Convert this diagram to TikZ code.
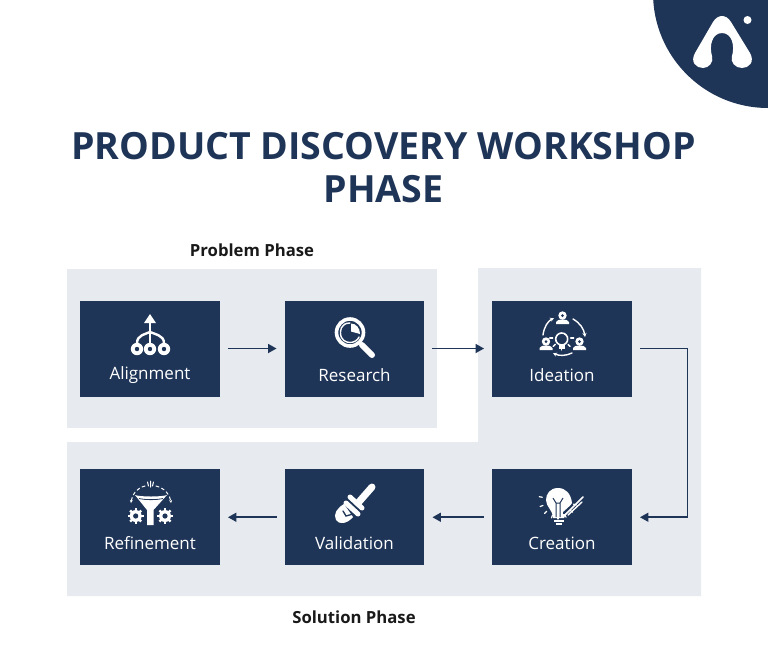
\documentclass[tikz,border=0pt]{standalone}
\usepackage{fontspec}
\setmainfont{Open Sans}
\usetikzlibrary{arrows.meta}
\definecolor{navy}{HTML}{1F3557}
\definecolor{panel}{HTML}{E7EAEE}
\tikzset{
  stepbox/.style={fill=navy,draw=none,minimum width=139.5pt,minimum height=96pt,inner sep=0pt},
  boxlabel/.style={text=white,font=\fontsize{17}{20}\selectfont,inner sep=0pt,anchor=base},
  flowarrow/.style={navy,line width=1.7pt,shorten >=8pt,shorten <=8pt,-{Triangle[length=8.5pt,width=9pt]}},
  phase/.style={font=\fontsize{16.7}{19}\selectfont\bfseries,text=black!90,inner sep=0pt},
  icon/.style={white,line width=1.4pt,line cap=round,line join=round}
}
% person: head and shoulders
\newcommand{\personicon}[2]{
  \fill[white] (#1,#2-4) circle (4.2);
  \fill[navy] (#1,#2-4) circle (1.5);
  \fill[white] (#1-6.5,#2+4.5) -- (#1-6.5,#2+2.5) .. controls (#1-5.5,#2-1) and (#1+5.5,#2-1) .. (#1+6.5,#2+2.5) -- (#1+6.5,#2+4.5) -- cycle;
}
% gear with a navy hole
\newcommand{\gearicon}[2]{
  \foreach \a in {0,45,...,315}
    \draw[white,line width=2.4pt] (#1,#2) ++(\a:7.8pt) -- ++(\a:-3pt);
  \fill[white] (#1,#2) circle (6);
  \fill[navy] (#1,#2) circle (2.6);
}
\begin{document}
\begin{tikzpicture}[x=1pt,y=-1pt]
\useasboundingbox (0,0) rectangle (768,665);
\fill[white] (0,0) rectangle (768,665);
% logo
\begin{scope}
\clip (0,0) rectangle (768,665);
\fill[navy] (768,-7) circle (115);
\end{scope}
\fill[white] (713,22) .. controls (718,14) and (726,14) .. (731,22) -- (750,53)
  .. controls (755,62) and (749,68) .. (742,68) .. controls (735,68) and (730,62) .. (732,56)
  .. controls (735,46) and (732,33) .. (722,33) .. controls (712,33) and (709,46) .. (712,56)
  .. controls (714,62) and (709,68) .. (703,68) .. controls (696,68) and (690,62) .. (695,53) -- cycle;
\fill[white] (747.5,20) circle (4);
% title
\node[text=navy,font=\fontsize{37.5}{43}\selectfont\bfseries,align=center,inner sep=0pt] (title) at (383.5,167.5) {PRODUCT DISCOVERY WORKSHOP\\PHASE};
% panels
\fill[panel] (67,269) rectangle (437,428);
\fill[panel] (478,268) -- (701,268) -- (701,596) -- (67,596) -- (67,442) -- (478,442) -- cycle;
\node[phase] (problem) at (252,250) {Problem Phase};
\node[phase] (solution) at (354,617) {Solution Phase};
% boxes
\node[stepbox] (alignment) at (150,348.5) {};
\node[stepbox] (research) at (354.5,348.5) {};
\node[stepbox] (ideation) at (562,348.5) {};
\node[stepbox] (refinement) at (150,517.25) {};
\node[stepbox] (validation) at (354.5,517.25) {};
\node[stepbox] (creation) at (562,517.25) {};
\node[boxlabel] (alignmenttext) at (150,379.5) {Alignment};
\node[boxlabel] (researchtext) at (354.5,381.5) {Research};
\node[boxlabel] (ideationtext) at (562,381.5) {Ideation};
\node[boxlabel] (refinementtext) at (150,549) {Refinement};
\node[boxlabel] (validationtext) at (354.5,549) {Validation};
\node[boxlabel] (creationtext) at (562,549) {Creation};
% arrows
\draw[flowarrow] (alignment) -- (research);
\draw[flowarrow] (research) -- (ideation);
\draw[flowarrow] (ideation.east) -- ++(55.5,0) |- (creation.east);
\draw[flowarrow] (creation) -- (validation);
\draw[flowarrow] (validation) -- (refinement);
% alignment icon
\draw[icon,line width=2.4pt] (150,320) -- (150,345);
\fill[white] (150,314) -- (156,323) -- (144,323) -- cycle;
\draw[icon,line width=2.4pt] (137,343) .. controls (137,335) and (146,334) .. (150,332) .. controls (154,334) and (164,335) .. (164,343);
\foreach \cx in {137,150,164}{
  \fill[white] (\cx,349) circle (6.2);
  \fill[navy] (\cx,349) circle (2.2);
}
% research icon
\draw[icon,line width=3.6pt] (350,332.5) circle (13.5);
\draw[icon,line width=6pt] (362,345) -- (372,355);
\draw[icon] (350,323) .. controls (340,323) and (340.5,332) .. (340.5,333) .. controls (340.5,340) and (346,342.5) .. (350,342.5) .. controls (354,342.5) and (358,340) .. (359,337);
\fill[white] (351,323.5) .. controls (356,323.5) and (360,328) .. (360,334) -- (351,331.5) -- cycle;
% ideation icon
\personicon{562.5}{319.5}
\personicon{546}{345.5}
\personicon{579.5}{345.5}
\draw[icon,line width=1.6pt] (561.7,339) circle (6);
\fill[white] (559,345) rectangle (564.5,349);
\foreach \a in {180,225,270,315,0}
  \draw[icon] (561.7,338) ++(\a:9pt) -- ++(\a:3pt);
\draw[icon,-{Stealth[length=4pt,width=4pt]}] (543,335) .. controls (544,327) and (548,321) .. (554,318);
\draw[icon,-{Stealth[length=4pt,width=4pt]}] (573,319) .. controls (580,323) and (584,329) .. (585,337);
\draw[icon,-{Stealth[length=4pt,width=4pt]}] (572,353) .. controls (566,356) and (559,356) .. (553,353);
% creation icon
\fill[white] (558,488) .. controls (550,488) and (546,494) .. (546,500) .. controls (546,507) and (553,510) .. (553,518) -- (564,518) -- (572,503) .. controls (571,494) and (566,488) .. (558,488);
\fill[white] (554,519.5) rectangle (564,522);
\fill[white] (556,523) rectangle (562,524.5);
\draw[navy,line width=1pt] (556,517) -- (556,503) (560,517) -- (560,503) (553,498) -- (556,503) -- (560,503) -- (563,498);
\draw[icon,line width=2.6pt,navy] (564,513) -- (583,496);
\draw[icon,line width=1.5pt] (565,515) -- (583,497);
\draw[icon] (568,515) -- (582,502);
\foreach \a in {170,200,225,250,270,295,320,345}
  \draw[icon,line width=1.2pt] (558,500) ++(\a:16pt) -- ++(\a:3pt);
% refinement icon
\fill[white] (135,495) .. controls (140,497) and (162,497) .. (167,495) -- (153.5,510) -- (153.5,525) -- (147,525) -- (147,510) -- cycle;
\draw[navy,line width=0.8pt] (139,498.5) .. controls (145,500) and (157,500) .. (163,498.5);
\gearicon{135.7}{516}
\gearicon{165}{516}
\draw[icon,line width=1pt,dashed,-{Stealth[length=3pt,width=3pt]}] (145,486) .. controls (137,488) and (132,494) .. (131,503);
\draw[icon,line width=1pt,dashed,-{Stealth[length=3pt,width=3pt]}] (156,486) .. controls (164,488) and (170,494) .. (171,503);
\draw[icon,line width=1pt] (147.5,482) -- (148.5,486) (150.5,481) -- (150.5,487) (153.5,482) -- (152.5,486);
% validation icon
\draw[icon,line width=7pt] (372,487) -- (358,503);
\draw[white,line width=5pt,line cap=round] (350,497) -- (362,508);
\draw[white,line width=5pt,line cap=round] (346,503) -- (358,514);
\fill[white] (344,504) .. controls (337,508) and (333,514) .. (336,520) .. controls (339,525) and (347,524) .. (353,517) -- cycle;
\draw[navy,line width=1.3pt,line cap=round] (343,511) -- (346,516) -- (353,514);
\end{tikzpicture}
\end{document}
